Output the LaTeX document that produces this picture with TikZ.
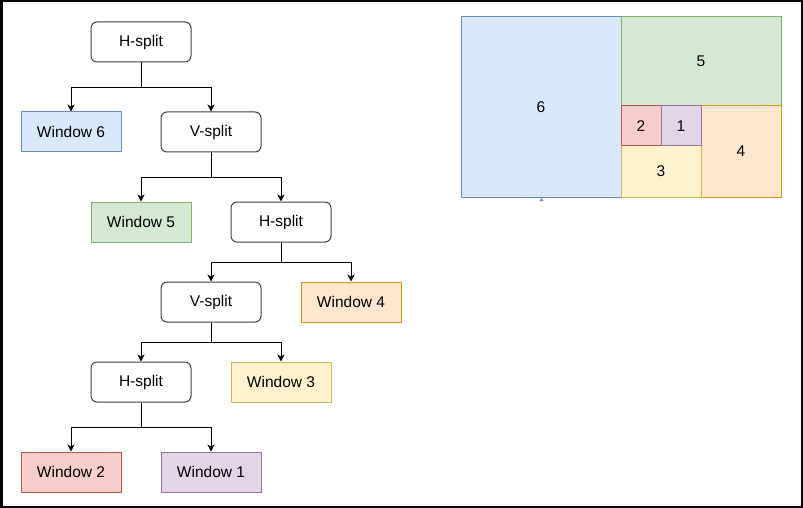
\documentclass[tikz,border=0pt]{standalone}
\usepackage{fontspec}
\setmainfont{Liberation Sans}
\usetikzlibrary{arrows.meta}

\definecolor{blueF}{HTML}{DAE8FC}\definecolor{blueD}{HTML}{6C8EBF}
\definecolor{greenF}{HTML}{D5E8D4}\definecolor{greenD}{HTML}{82B366}
\definecolor{redF}{HTML}{F8CECC}\definecolor{redD}{HTML}{B85450}
\definecolor{purpleF}{HTML}{E1D5E7}\definecolor{purpleD}{HTML}{9673A6}
\definecolor{yellowF}{HTML}{FFF2CC}\definecolor{yellowD}{HTML}{D6B656}
\definecolor{orangeF}{HTML}{FFE6CC}\definecolor{orangeD}{HTML}{D79B00}

\tikzset{
  split/.style={draw=black!75, rounded corners=6pt, minimum width=100pt, minimum height=40pt, inner sep=0pt, line width=1pt},
  win/.style={draw=#1D, fill=#1F, minimum width=100pt, minimum height=40pt, inner sep=0pt, line width=1pt},
  pane/.style={draw=#1D, fill=#1F, inner sep=0pt, line width=1pt},
  link/.style={-{Stealth[length=7pt,width=7pt,inset=2pt]}, line width=0.9pt},
}

\begin{document}
\begin{tikzpicture}[x=1pt, y=-1pt, font=\fontsize{15.5}{18}\selectfont]

	    % frame of the whole picture
	    \useasboundingbox (0,0) rectangle (803,508);
	    \draw[line width=2.5pt] (1.25,1.25) rectangle (801.75,506.75);

	    % split tree
	    \node[split] (hs1) at (141,42) {H-split};
	    \node[win=blue] (w6) at (71,132) {Window 6};
	    \node[split] (vs1) at (211,132) {V-split};
	    \node[win=green] (w5) at (141,222) {Window 5};
	    \node[split] (hs2) at (281,222) {H-split};
	    \node[split] (vs2) at (211,302) {V-split};
	    \node[win=orange] (w4) at (351,302) {Window 4};
	    \node[split] (hs3) at (141,382) {H-split};
	    \node[win=yellow] (w3) at (281,382) {Window 3};
	    \node[win=red] (w2) at (71,472) {Window 2};
	    \node[win=purple] (w1) at (211,472) {Window 1};

	    % connectors
	    \draw[link] (hs1.south) -- ++(0,25) -| (w6.north);
	    \draw[link] (hs1.south) -- ++(0,25) -| (vs1.north);
	    \draw[link] (vs1.south) -- ++(0,25) -| (w5.north);
	    \draw[link] (vs1.south) -- ++(0,25) -| (hs2.north);
	    \draw[link] (hs2.south) -- ++(0,20) -| (vs2.north);
	    \draw[link] (hs2.south) -- ++(0,20) -| (w4.north);
	    \draw[link] (vs2.south) -- ++(0,20) -| (hs3.north);
	    \draw[link] (vs2.south) -- ++(0,20) -| (w3.north);
	    \draw[link] (hs3.south) -- ++(0,25) -| (w2.north);
	    \draw[link] (hs3.south) -- ++(0,25) -| (w1.north);

	    % screen layout
	    \node[pane=blue, minimum width=160pt, minimum height=180pt] (p6) at (541,107) {6};
	    \node[pane=green, minimum width=160pt, minimum height=89pt] (p5) at (701,61.5) {5};
	    \node[pane=orange, minimum width=80pt, minimum height=91pt] (p4) at (741,151.5) {4};
	    \node[pane=yellow, minimum width=80pt, minimum height=51pt] (p3) at (661,171.5) {3};
	    \node[pane=red, minimum width=40pt, minimum height=40pt] (p2) at (641,126) {2};
	    \node[pane=purple, minimum width=40pt, minimum height=40pt] (p1) at (681,126) {1};
	    \fill[blueD] (539.5,201) -- (543.5,201) -- (541.5,198) -- cycle;

\end{tikzpicture}
\end{document}
